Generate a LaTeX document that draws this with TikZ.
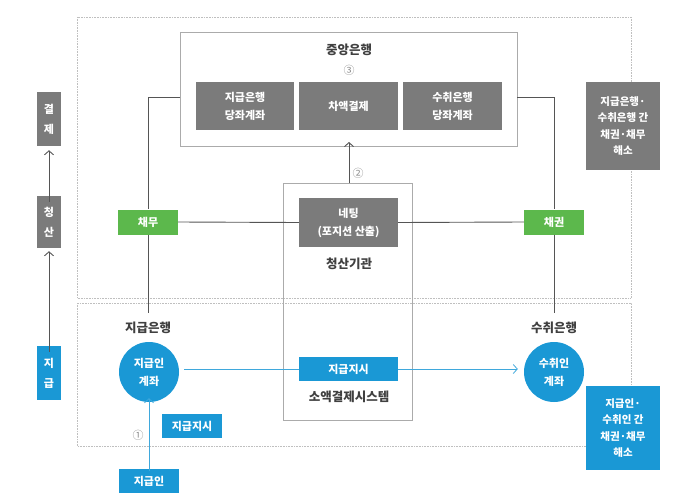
\documentclass[tikz,border=0pt]{standalone}
\usepackage{fontspec}
\setmainfont{Noto Sans CJK KR}
\usetikzlibrary{arrows.meta}
\definecolor{boxgray}{HTML}{7B7B7B}
\definecolor{linegray}{HTML}{555555}
\definecolor{framegray}{HTML}{ABABAB}
\definecolor{okgreen}{HTML}{5CB84C}
\definecolor{payblue}{HTML}{1A98D5}
\definecolor{lineblue}{HTML}{3FA8DC}
\tikzset{
  boxfont/.style={font=\bfseries\fontsize{11}{18}\selectfont},
  graybox/.style={fill=boxgray, text=white, align=center, boxfont, inner sep=0pt},
  greenbox/.style={fill=okgreen, text=white, align=center, boxfont, minimum width=60pt, minimum height=25pt},
  bluebox/.style={fill=payblue, text=white, align=center, boxfont, inner sep=0pt},
  acct/.style={circle, fill=payblue, text=white, align=center, minimum size=60pt, inner sep=0pt, boxfont},
  sidebox/.style={font=\bfseries\fontsize{10.5}{16.5}\selectfont},
  stepfont/.style={font=\bfseries\fontsize{11}{20}\selectfont},
  title/.style={font=\bfseries\fontsize{12.5}{14}\selectfont, text=black!75},
  num/.style={font=\fontsize{11}{12}\selectfont, text=black!45},
  frame/.style={draw=framegray, line width=0.8pt},
  zone/.style={draw=black!25, densely dotted, line width=0.6pt},
  link/.style={draw=linegray, line width=0.9pt},
  up/.style={-{Straight Barb[length=4pt,width=9pt]}}
}
\begin{document}
\begin{tikzpicture}[x=1pt, y=-1pt]
  \useasboundingbox (0,0) rectangle (700,503);

  %영역 구분
  \draw[zone] (77,17) rectangle (631,298);
  \draw[zone] (77,303) rectangle (631,446);

  % 중앙은행
  \draw[frame] (180,32) rectangle (517,146);
  \node[title] (cb) at (349,50) {중앙은행};
  \node[num] (n3) at (349,70) {③};
  \node[graybox, minimum width=98pt, minimum height=48pt] (pacc) at (245,106) {지급은행\\당좌계좌};
  \node[graybox, minimum width=99pt, minimum height=48pt] (net) at (348.5,106) {차액결제};
  \node[graybox, minimum width=99pt, minimum height=48pt] (racc) at (452.5,106) {수취은행\\당좌계좌};
  \coordinate (cbl) at (180,97);
  \coordinate (cbr) at (517,97);
  \coordinate (cbb) at (349,146);

  % 청산기관
  \draw[frame] (283,183) rectangle (412,420);
  \coordinate (clt) at (349,183);
  \node[graybox, minimum width=99pt, minimum height=49pt] (netting) at (348.5,222.5) {네팅\\(포지션 산출)};
  \node[title] (ch) at (349,264) {청산기관};
  \draw[link, up] (clt) -- ([yshift=4pt]cbb);
  \node[num] (n2) at (358,173) {②};

  % 채무, 채권
  \node[greenbox] (debt) at (148,222) {채무};
  \node[greenbox] (claim) at (554,222) {채권};
  \coordinate (pbt) at (148,313);
  \coordinate (rbt) at (554,313);
  \draw[link] (cbl) -| (debt.north);
  \draw[link] (debt.south) -- (pbt);
  \draw[link] (cbr) -| (claim.north);
  \draw[link] (claim.south) -- (rbt);
  \draw[link] (debt.east) -- (netting.west);
  \draw[link] (netting.east) -- (claim.west);

  % 지급은행, 수취은행
  \node[title] (pb) at (148,328) {지급은행};
  \node[title] (rb) at (554,328) {수취은행};
  \node[acct] (payer) at (149,372) {지급인\\계좌};
  \node[acct] (payee) at (554,372) {수취인\\계좌};

  % 소액결제시스템
  \node[bluebox, minimum width=99pt, minimum height=24pt] (order) at (348.5,369) {지급지시};
  \node[title] (small) at (349,397) {소액결제시스템};
  \draw[lineblue, line width=0.8pt] ([xshift=5pt]payer.east |- order) -- (order.west);
  \draw[lineblue, line width=0.8pt, up] (order.east) -- ([xshift=-6pt]payee.west |- order);

  % 지급인
  \node[bluebox, minimum width=60pt, minimum height=24pt] (payerp) at (149,481) {지급인};
  \draw[lineblue, line width=0.8pt, up] ([yshift=-2pt]payerp.north) -- ([yshift=4pt]payer.south);
  \node[num] (n1) at (138,435) {①};
  \node[bluebox, minimum width=60pt, minimum height=24pt] (porder) at (192,426) {지급지시};

  % 왼쪽 단계
  \node[graybox, stepfont, minimum width=24pt, minimum height=54pt] (settle) at (49,119) {결\\제};
  \node[graybox, stepfont, minimum width=24pt, minimum height=52pt] (clear) at (49,222) {청\\산};
  \node[bluebox, stepfont, minimum width=24pt, minimum height=54pt] (pay) at (49,373) {지\\급};
  \draw[link, up] ([yshift=-6pt]clear.north) -- ([yshift=-4pt]settle.south);
  \draw[link, up] ([yshift=-6pt]pay.north) -- ([yshift=-3pt]clear.south);

  % 오른쪽 설명
  \node[graybox, sidebox, minimum width=74pt, minimum height=88pt] (bankres) at (623,126) {지급은행·\\수취은행 간\\채권·채무\\해소};
  \node[bluebox, sidebox, minimum width=74pt, minimum height=84pt] (custres) at (623,428) {지급인·\\수취인 간\\채권·채무\\해소};
\end{tikzpicture}
\end{document}
